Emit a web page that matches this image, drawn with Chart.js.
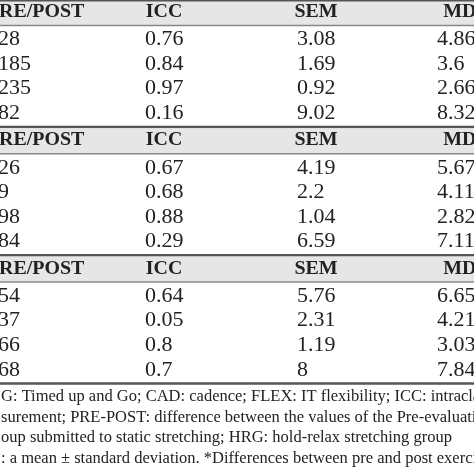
<!DOCTYPE html><html><head><meta charset="utf-8">
<script src="https://cdn.jsdelivr.net/npm/chart.js@4/dist/chart.umd.min.js"></script>
<style>html,body{margin:0;padding:0;background:#fff}#w{width:474px;height:474px}</style></head><body>
<div id="w"><canvas id="c"></canvas></div>
<script>
const headers = ["RE/POST","ICC","SEM","MDC"];
const prePost = [["28","185","235","82"],["26","9","98","84"],["54","37","66","68"]];
const icc = [["0.76","0.84","0.97","0.16"],["0.67","0.68","0.88","0.29"],["0.64","0.05","0.8","0.7"]];
const sem = [["3.08","1.69","0.92","9.02"],["4.19","2.2","1.04","6.59"],["5.76","2.31","1.19","8"]];
const mdc = [["4.86","3.6","2.66","8.32"],["5.67","4.11","2.82","7.11"],["6.65","4.21","3.03","7.84"]];
const notes = ["G: Timed up and Go; CAD: cadence; FLEX: IT flexibility; ICC: intraclass",
 "surement; PRE-POST: difference between the values of the Pre-evaluation",
 "oup submitted to static stretching; HRG: hold-relax stretching group",
 ": a mean ± standard deviation. *Differences between pre and post exercise"];
const colX = [0,145,297,437];
const blockH = 128.3, hdrY = 12, row0 = 40, rowH = 24.6;
function wide(ctx,t,x,y,sx){ctx.save();ctx.translate(x,y);ctx.scale(sx,1);ctx.fillText(t,0,0);ctx.restore();}
const tablePlugin = {
  id:'table',
  afterDraw(chart){
    const ctx = chart.ctx, xs = chart.scales.x, ys = chart.scales.y;
    const X = v=>xs.getPixelForValue(v), Y = v=>ys.getPixelForValue(v);
    ctx.save();
    ctx.textBaseline='middle';
    const cols=[prePost,icc,sem,mdc];
    for(let b=0;b<3;b++){
      const top=b*blockH;
      ctx.fillStyle='#e6e6e6';
      ctx.fillRect(X(0),Y(top),X(474)-X(0),Y(top+25)-Y(top));
      ctx.strokeStyle='#888';ctx.lineWidth=1.5;
      ctx.beginPath();ctx.moveTo(X(0),Y(top+25.5));ctx.lineTo(X(474),Y(top+25.5));ctx.stroke();
      ctx.strokeStyle='#555';ctx.lineWidth=2.5;
      ctx.beginPath();ctx.moveTo(X(0),Y(top+127));ctx.lineTo(X(474),Y(top+127));ctx.stroke();
      ctx.fillStyle='#222';
      ctx.font='bold 19px "Liberation Serif", serif';
      headers.forEach((h,i)=>{
        if(i===0){ctx.textAlign='left';wide(ctx,h,X(-1),Y(top+hdrY),1.05);}
        else{ctx.textAlign='center';wide(ctx,h,X(colX[i]+(i===3?30:19)),Y(top+hdrY),1.05);}
      });
      ctx.font='20px "Liberation Serif", serif';ctx.textAlign='left';
      for(let r=0;r<4;r++){
        cols.forEach((c,i)=>wide(ctx,c[b][r],X(colX[i]-(i===0?2:0)),Y(top+row0+r*rowH),1.1));
      }
    }
    ctx.strokeStyle='#555';ctx.lineWidth=2;
    ctx.beginPath();ctx.moveTo(X(0),Y(0.5));ctx.lineTo(X(474),Y(0.5));ctx.stroke();
    ctx.font='16.5px "Liberation Serif", serif';ctx.fillStyle='#222';
    notes.forEach((n,i)=>ctx.fillText(n,X(1),Y(397+i*20.5)));
    ctx.restore();
  }
};
new Chart(document.getElementById('c'),{
  type:'scatter',
  data:{datasets:[{data:[],pointRadius:0}]},
  options:{responsive:true,maintainAspectRatio:false,animation:false,
    layout:{padding:0},
    plugins:{legend:{display:false},tooltip:{enabled:false}},
    scales:{x:{type:'linear',min:0,max:474,display:false},
            y:{type:'linear',min:0,max:474,reverse:true,display:false}}},
  plugins:[tablePlugin]
});
</script></body></html>
